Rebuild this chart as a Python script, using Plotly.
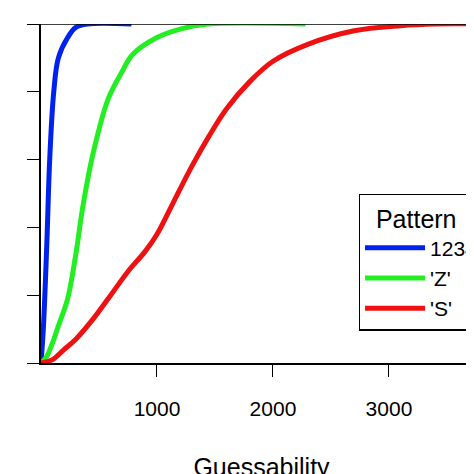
import plotly.graph_objects as go

names = ["1234", "'Z'", "'S'"]
colors = ["#0022ee", "#22ee22", "#ee1111"]
blue_x = [0, 20, 50, 75, 110, 150, 230, 300, 400, 780]
blue_y = [0, 0.1, 0.35, 0.6, 0.8, 0.9, 0.96, 0.99, 1, 1]
green_x = [0, 50, 100, 150, 230, 300, 360, 450, 580, 700, 790, 1000, 1200, 1440, 2280]
green_y = [0, 0.02, 0.06, 0.11, 0.19, 0.32, 0.46, 0.62, 0.78, 0.86, 0.91, 0.96, 0.985, 1, 1]
red_x = [0, 100, 200, 300, 450, 580, 750, 900, 1000, 1150, 1300, 1450, 1600, 1800, 2000, 2300, 2700, 3100, 3400, 3802]
red_y = [0, 0.01, 0.04, 0.07, 0.13, 0.19, 0.27, 0.33, 0.38, 0.48, 0.58, 0.67, 0.75, 0.83, 0.89, 0.94, 0.98, 0.995, 1, 1]
x_ticks = [1000, 2000, 3000]
y_ticks = [0, 0.2, 0.4, 0.6, 0.8, 1.0]

fig = go.Figure()
for n, c, xs, ys in zip(names, colors, [blue_x, green_x, red_x], [blue_y, green_y, red_y]):
    fig.add_trace(go.Scatter(x=xs, y=ys, mode="lines", name=n,
                             line=dict(color=c, width=5, shape="spline", smoothing=1.0)))
fig.add_shape(type="line", xref="paper", yref="y", x0=-0.03, x1=1, y0=1, y1=1,
              line=dict(color="black", width=1.5))
fig.update_layout(
    width=474, height=474, margin=dict(l=33, r=0, t=16, b=119, autoexpand=False),
    plot_bgcolor="white", paper_bgcolor="white",
    font=dict(family="Liberation Sans, Arial", size=21, color="black"),
    xaxis=dict(range=[0, 3802], tickvals=x_ticks, showgrid=False, zeroline=False,
               automargin=False, ticklabelstandoff=14,
               showline=True, linecolor="black", linewidth=1.5, ticks="outside",
               ticklen=12, tickcolor="black", title=dict(text="Guessability", standoff=40)),
    yaxis=dict(range=[0, 1], tickvals=y_ticks, showticklabels=False, showgrid=False,
               automargin=False,
               zeroline=False, showline=True, linecolor="black", linewidth=1.5,
               ticks="outside", ticklen=12, tickcolor="black"),
    legend=dict(x=0.72, y=0.5, xanchor="left", yanchor="top", bordercolor="black",
                borderwidth=1.5, bgcolor="white", title=dict(text="  Pattern"),
                font=dict(size=21), itemwidth=60),
)
fig.write_html("out.html")
